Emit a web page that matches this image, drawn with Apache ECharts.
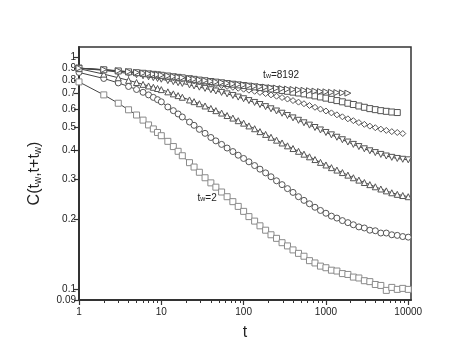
<!DOCTYPE html>
<html>
<head>
<meta charset="utf-8">
<script src="https://cdn.jsdelivr.net/npm/echarts@6/dist/echarts.min.js"></script>
<style>
  html, body { margin: 0; padding: 0; background: #fff; }
  #main { width: 474px; height: 351px; }
</style>
</head>
<body>
<div id="main"></div>
<script>
// time grid t (shared by all curves)
const tGrid = [1, 2, 3, 4, 5, 6, 7, 8, 9, 10,
  12, 14, 16, 18, 22, 25, 29, 34, 40, 46, 54, 63, 74, 86, 100,
  116, 136, 158, 185, 215, 251, 293, 341, 398, 464, 541, 631, 736, 858, 1000,
  1166, 1359, 1585, 1848, 2154, 2512, 2929, 3415, 3981, 4642, 5412, 6310, 7356, 8577, 10000]

// C(tw, t+tw), one array per waiting time
const tw2 = [0.785, 0.69, 0.635, 0.595, 0.565, 0.537, 0.512, 0.492, 0.475, 0.46,
  0.435, 0.413, 0.394, 0.377, 0.352, 0.337, 0.32, 0.303, 0.288, 0.276, 0.263, 0.251, 0.239, 0.228, 0.217,
  0.206, 0.197, 0.188, 0.18, 0.172, 0.166, 0.159, 0.154, 0.148, 0.143, 0.139, 0.133, 0.13, 0.126, 0.124,
  0.121, 0.12, 0.117, 0.116, 0.113, 0.112, 0.109, 0.108, 0.105, 0.104, 0.099, 0.102, 0.1, 0.101, 0.1]
const tw8 = [0.862, 0.812, 0.777, 0.75, 0.728, 0.708, 0.69, 0.673, 0.658, 0.644,
  0.612, 0.59, 0.571, 0.554, 0.527, 0.51, 0.49, 0.471, 0.452, 0.437, 0.422, 0.407, 0.393, 0.379, 0.367,
  0.355, 0.342, 0.33, 0.318, 0.306, 0.294, 0.283, 0.272, 0.262, 0.251, 0.242, 0.234, 0.226, 0.219, 0.213,
  0.207, 0.203, 0.198, 0.194, 0.19, 0.186, 0.184, 0.18, 0.179, 0.175, 0.175, 0.172, 0.171, 0.169, 0.168]
const tw32 = [0.895, 0.848, 0.818, 0.797, 0.78, 0.766, 0.754, 0.744, 0.735, 0.727,
  0.711, 0.697, 0.685, 0.674, 0.656, 0.645, 0.632, 0.618, 0.603, 0.59, 0.576, 0.562, 0.548, 0.534, 0.521,
  0.507, 0.493, 0.479, 0.466, 0.453, 0.44, 0.428, 0.416, 0.405, 0.394, 0.383, 0.373, 0.363, 0.353, 0.344,
  0.335, 0.327, 0.319, 0.311, 0.303, 0.296, 0.289, 0.283, 0.277, 0.271, 0.266, 0.261, 0.257, 0.254, 0.251]
const tw128 = [0.9, 0.88, 0.865, 0.853, 0.843, 0.834, 0.826, 0.819, 0.812, 0.806,
  0.795, 0.787, 0.779, 0.773, 0.762, 0.754, 0.745, 0.736, 0.726, 0.717, 0.707, 0.697, 0.686, 0.675, 0.664,
  0.652, 0.64, 0.627, 0.614, 0.601, 0.588, 0.575, 0.562, 0.549, 0.536, 0.523, 0.511, 0.499, 0.487, 0.475,
  0.464, 0.453, 0.442, 0.432, 0.422, 0.413, 0.404, 0.396, 0.389, 0.382, 0.376, 0.371, 0.367, 0.364, 0.362]
const tw512 = [0.9, 0.885, 0.873, 0.864, 0.857, 0.851, 0.845, 0.84, 0.836, 0.832,
  0.824, 0.818, 0.812, 0.807, 0.799, 0.793, 0.786, 0.779, 0.772, 0.765, 0.758, 0.751, 0.744, 0.737, 0.73,
  0.723, 0.715, 0.707, 0.699, 0.69, 0.681, 0.672, 0.662, 0.652, 0.642, 0.632, 0.621, 0.61, 0.599, 0.588,
  0.577, 0.566, 0.555, 0.544, 0.534, 0.524, 0.515, 0.506, 0.498, 0.491, 0.485, 0.479, 0.475, 0.47]
const tw2048 = [0.898, 0.885, 0.875, 0.867, 0.86, 0.855, 0.85, 0.846, 0.842, 0.838,
  0.832, 0.826, 0.821, 0.817, 0.81, 0.805, 0.799, 0.794, 0.788, 0.783, 0.778, 0.772, 0.767, 0.762, 0.757,
  0.752, 0.747, 0.742, 0.737, 0.732, 0.727, 0.721, 0.715, 0.709, 0.703, 0.697, 0.69, 0.683, 0.676, 0.668,
  0.66, 0.652, 0.644, 0.635, 0.627, 0.618, 0.61, 0.602, 0.596, 0.59, 0.586, 0.582, 0.579]
const tw8192 = [0.9, 0.887, 0.877, 0.869, 0.862, 0.857, 0.852, 0.848, 0.844, 0.84,
  0.834, 0.828, 0.823, 0.819, 0.812, 0.807, 0.801, 0.796, 0.79, 0.785, 0.78, 0.775, 0.77, 0.766, 0.762,
  0.757, 0.753, 0.749, 0.745, 0.741, 0.738, 0.734, 0.731, 0.728, 0.725, 0.722, 0.719, 0.716, 0.713, 0.711,
  0.708, 0.706, 0.704, 0.702]

// axis ticks / labels
const xMajor = [1, 10, 100, 1000, 10000]
const xMinor = [2, 3, 4, 5, 6, 7, 8, 9, 20, 30, 40, 50, 60, 70, 80, 90,
  200, 300, 400, 500, 600, 700, 800, 900, 2000, 3000, 4000, 5000, 6000, 7000, 8000, 9000]
const yTicks = [0.09, 0.1, 0.2, 0.3, 0.4, 0.5, 0.6, 0.7, 0.8, 0.9, 1]

const INK = '#333'

function makeSeries(vals, symbol, opts) {
  opts = opts || {}
  return Object.assign({
    type: 'line',
    data: vals.map((v, i) => [tGrid[i], v]),
    symbol: symbol,
    symbolSize: 6,
    showSymbol: true,
    showAllSymbol: true,
    lineStyle: { width: 1, color: '#444' },
    itemStyle: { color: '#fff', borderColor: opts.border || '#555', borderWidth: 1 },
    silent: true
  }, opts.extra || {})
}

const labelRich = {
  s: { fontSize: 7, verticalAlign: 'bottom', color: '#222' },
  n: { fontSize: 10, color: '#222' }
}

const chart = echarts.init(document.getElementById('main'), null, { renderer: 'canvas' })

const option = {
  backgroundColor: '#fff',
  animation: false,
  grid: {
    left: 79, right: 63, top: 47, bottom: 51,
    show: true, borderColor: INK, borderWidth: 1.5, backgroundColor: '#fff'
  },
  xAxis: [{
    type: 'log',
    logBase: 10,
    min: 1,
    max: 10800,
    position: 'bottom',
    axisLine: { lineStyle: { color: INK, width: 2 } },
    axisTick: { customValues: xMajor, length: 5, lineStyle: { color: INK, width: 1.2 } },
    axisLabel: { customValues: xMajor, fontSize: 10, color: '#222', margin: 7,
      fontFamily: 'Liberation Sans', formatter: v => String(v) },
    splitLine: { show: false },
    name: 't',
    nameLocation: 'middle',
    nameGap: 25,
    nameTextStyle: { fontSize: 16, color: '#222', fontFamily: 'Liberation Sans' }
  }, {
    type: 'log',
    logBase: 10,
    min: 1,
    max: 10800,
    position: 'bottom',
    axisLine: { show: false },
    axisTick: { customValues: xMinor, length: 3, lineStyle: { color: INK, width: 1 } },
    axisLabel: { show: false },
    splitLine: { show: false }
  }],
  yAxis: {
    type: 'log',
    logBase: 10,
    min: 0.09,
    max: 1.11,
    axisLine: { lineStyle: { color: INK, width: 2 } },
    axisTick: { customValues: yTicks, length: 5, lineStyle: { color: INK, width: 1.2 } },
    axisLabel: { customValues: yTicks, fontSize: 10, color: '#222', margin: 3,
      fontFamily: 'Liberation Sans', formatter: v => String(v) },
    splitLine: { show: false },
    name: '{n|C(t}{s|w}{n|,t+t}{s|w}{n|)}',
    nameLocation: 'middle',
    nameGap: 36,
    nameTextStyle: {
      fontFamily: 'Liberation Sans',
      rich: {
        n: { fontSize: 16, color: '#222', fontFamily: 'Liberation Sans' },
        s: { fontSize: 10, color: '#222', verticalAlign: 'bottom', fontFamily: 'Liberation Sans' }
      }
    }
  },
  series: [
    makeSeries(tw2, 'rect', { border: '#8a8a8a', extra: {
      markPoint: {
        symbol: 'circle', symbolSize: 0, silent: true,
        data: [{ coord: [36, 0.248] }],
        label: { show: true, formatter: '{n|t}{s|w}{n|=2}', rich: labelRich, fontFamily: 'Liberation Sans' }
      }
    } }),
    makeSeries(tw8, 'circle'),
    makeSeries(tw32, 'triangle'),
    makeSeries(tw128, 'triangle', { extra: { symbolRotate: 180 } }),
    makeSeries(tw512, 'diamond'),
    makeSeries(tw2048, 'rect'),
    makeSeries(tw8192, 'triangle', { extra: {
      symbolRotate: -90,
      markPoint: {
        symbol: 'circle', symbolSize: 0, silent: true,
        data: [{ coord: [285, 0.842] }],
        label: { show: true, formatter: '{n|t}{s|w}{n|=8192}', rich: labelRich, fontFamily: 'Liberation Sans' }
      }
    } })
  ]
}

chart.setOption(option)
</script>
</body>
</html>
